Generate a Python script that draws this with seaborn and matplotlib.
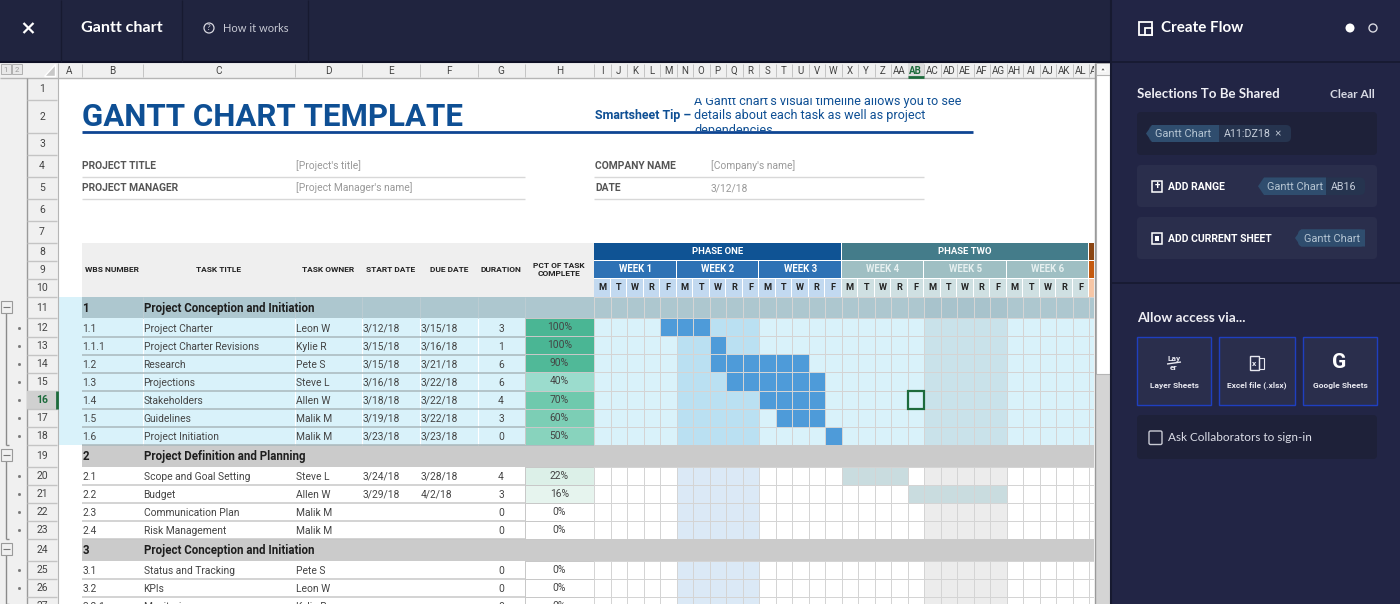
import numpy as np
import pandas as pd
import matplotlib
matplotlib.use("Agg")
import matplotlib.pyplot as plt
import seaborn as sns
from matplotlib.colors import ListedColormap, LinearSegmentedColormap
from matplotlib.patches import Rectangle, FancyBboxPatch, Polygon, Circle

# chart values
col_letters = ["A", "B", "C", "D", "E", "F", "G", "H"]
day_letters = ["M", "T", "W", "R", "F"]
week_labels = ["WEEK 1", "WEEK 2", "WEEK 3", "WEEK 4", "WEEK 5", "WEEK 6"]
phase_labels = ["PHASE ONE", "PHASE TWO"]
header_labels = ["WBS NUMBER", "TASK TITLE", "TASK OWNER", "START DATE", "DUE DATE", "DURATION", "PCT OF TASK\nCOMPLETE"]

wbs_a = ["1.1", "1.1.1", "1.2", "1.3", "1.4", "1.5", "1.6"]
title_a = ["Project Charter", "Project Charter Revisions", "Research", "Projections", "Stakeholders", "Guidelines", "Project Initiation"]
owner_a = ["Leon W", "Kylie R", "Pete S", "Steve L", "Allen W", "Malik M", "Malik M"]
start_a = ["3/12/18", "3/15/18", "3/15/18", "3/16/18", "3/18/18", "3/19/18", "3/23/18"]
due_a = ["3/15/18", "3/16/18", "3/21/18", "3/22/18", "3/22/18", "3/22/18", "3/23/18"]
dur_a = [3, 1, 6, 6, 4, 3, 0]
pct_a = [100, 100, 90, 40, 70, 60, 50]
bar_start_a = [4, 7, 7, 8, 10, 11, 14]
bar_len_a = [3, 1, 6, 6, 4, 3, 1]

wbs_b = ["2.1", "2.2", "2.3", "2.4"]
title_b = ["Scope and Goal Setting", "Budget", "Communication Plan", "Risk Management"]
owner_b = ["Steve L", "Allen W", "Malik M", "Malik M"]
start_b = ["3/24/18", "3/29/18", "", ""]
due_b = ["3/28/18", "4/2/18", "", ""]
dur_b = [4, 3, 0, 0]
pct_b = [22, 16, 0, 0]
bar_start_b = [15, 19, 0, 0]
bar_len_b = [4, 6, 0, 0]

wbs_c = ["3.1", "3.2", "3.2.1"]
title_c = ["Status and Tracking", "KPIs", "Monitoring"]
owner_c = ["Pete S", "Leon W", "Kylie R"]
dur_c = [0, 0, 0]
pct_c = [0, 0, 0]

groups = ["Project Conception and Initiation", "Project Definition and Planning", "Project Conception and Initiation"]

sns.set_theme(style="white")
plt.rcParams["font.family"] = ["Roboto", "DejaVu Sans"]

W, H = 1400, 604
fig = plt.figure(figsize=(14, 6.04), dpi=100, facecolor="white")
ax = fig.add_axes([0, 0, 1, 1])
ax.set_xlim(0, W)
ax.set_ylim(H, 0)
ax.axis("off")


def rect(x0, y0, x1, y1, color, z=1, **kw):
    ax.add_patch(Rectangle((x0, y0), x1 - x0, y1 - y0, facecolor=color, edgecolor="none", zorder=z, **kw))


def line(x0, y0, x1, y1, color, lw=1, z=2):
    ax.plot([x0, x1], [y0, y1], color=color, lw=lw, zorder=z, solid_capstyle="butt")


def txt(x, y, s, size=7, color="#444444", weight="normal", ha="left", family=None, z=5, **kw):
    return ax.text(x, y + 1, s, fontsize=size, color=color, weight=weight, ha=ha, va="center",
                   zorder=z, family=family or ["Roboto", "DejaVu Sans"], **kw)


# row edges of the sheet
row_h = [21.5, 33, 22, 22, 22, 22, 22, 18, 18, 18.5, 21.3, 18.4] + [18] * 6 + [22] + [18] * 4 + [22] + [18] * 3
row_y = np.concatenate([[78], 78 + np.cumsum(row_h)])
col_x = [57.5, 81.5, 142.5, 295, 361.5, 420, 478, 524.5, 594]
cw = 16.5
gx0 = 594
BODY = 7.4


def ry(n):
    return row_y[n - 1]


def rc(n):
    return (row_y[n - 1] + row_y[n]) / 2


# sheet chrome
rect(0, 62, 1111, H, "white", 0)
rect(0, 63, 1095, 78, "#f0f0f0")
rect(0, 78, 57.5, H, "#f0f0f0")
line(0, 77.5, 1095, 77.5, "#b5b5b5", 1)
line(26.5, 78, 26.5, H, "#9a9a9a", 1)
line(57.5, 63, 57.5, H, "#b5b5b5", 0.8)

for i, c in enumerate(col_letters):
    txt((col_x[i] + col_x[i + 1]) / 2, 69.5, c, 7.2, "#444444", ha="center")
    line(col_x[i + 1], 64, col_x[i + 1], 77, "#c4c4c4", 0.7)
grid_letters = [chr(ord("I") + k) for k in range(18)] + ["A" + chr(ord("A") + k) for k in range(12)] + ["A"]
for i, c in enumerate(grid_letters):
    x = gx0 + i * cw
    if c == "AB":
        rect(x, 63, x + cw, 78, "#dcdcdc", 2)
        line(x, 77, x + cw, 77, "#1d6b3c", 2, 3)
        txt(x + cw / 2, 69.5, c, 7, "#1d6b3c", "bold", ha="center")
    elif i < 30:
        txt(x + cw / 2, 69.5, c, 7, "#444444", ha="center")
    else:
        t = txt(x + 1, 69.5, c, 7, "#444444")
        t.set_clip_path(Rectangle((x, 63), 5, 15, transform=ax.transData))
        t.set_clip_on(True)
    line(x + cw, 64, x + cw, 77, "#c4c4c4", 0.7)

# outline buttons
for x, s in [(6, "1"), (17, "2")]:
    ax.add_patch(Rectangle((x - 5, 64), 10, 10, facecolor="#e8e8e8", edgecolor="#b0b0b0", lw=0.7, zorder=3))
    txt(x, 68.5, s, 5.5, "#999999", ha="center")
ax.add_patch(Polygon([[55, 64], [55, 76], [44, 76]], facecolor="#c8c8c8", zorder=3))

for n in range(1, 28):
    y0, y1 = ry(n), row_y[n]
    if y0 > H:
        break
    if n == 16:
        rect(27, y0, 57, y1, "#d0d0d0", 2)
        line(56.5, y0, 56.5, y1, "#1d6b3c", 2, 3)
        txt(42, (y0 + y1) / 2 - 0.5, str(n), 7.5, "#1d6b3c", "bold", ha="center")
    else:
        txt(42, (y0 + y1) / 2 - 0.5, str(n), 7.5, "#444444", ha="center")
    line(27, y1, 57, y1, "#c4c4c4", 1)
    if n >= 12 and n not in (19, 24):
        ax.plot([18.5], [(y0 + y1) / 2], marker="s", ms=1, color="#777777", zorder=3)

for n, end in [(11, 18), (19, 23), (24, 27)]:
    yc = rc(n) - 0.5
    line(6, yc, 6, min(row_y[end], H), "#8a8a8a", 1)
    line(6, min(row_y[end], H), 9, min(row_y[end], H), "#8a8a8a", 1)
    ax.add_patch(Rectangle((0.5, yc - 6), 11, 12, facecolor="#f0f0f0", edgecolor="#9a9a9a", lw=0.8, zorder=3))
    line(2.5, yc, 9.5, yc, "#777777", 0.8, 4)

# sheet title and project info
txt(82, 115.5, "GANTT CHART TEMPLATE", 22.5, "#0e4f94", "bold")
line(81.5, 132.3, 973, 132.3, "#0e4593", 2)
txt(595, 115, "Smartsheet Tip \u2013", 8.95, "#0e4f94", "bold")
clip = Rectangle((690, 98.3), 300, 33, transform=ax.transData)
tips = ["A Gantt chart's visual timeline allows you to see", "details about each task as well as project", "dependencies"]
for y, s in zip([101, 115, 129.5], tips):
    t = txt(694, y, s, 9.05, "#0e4f94")
    t.set_clip_path(clip)
    t.set_clip_on(True)

for x, lab, xv, val, y in [(82, "PROJECT TITLE", 296, "[Project's title]", 165),
                           (82, "PROJECT MANAGER", 296, "[Project Manager's name]", 187),
                           (595, "COMPANY NAME", 711, "[Company's name]", 165),
                           (595, "DATE", 711, "3/12/18", 187)]:
    txt(x, y, lab, BODY, "#555555", "bold")
    txt(xv, y, val, BODY, "#999999")
for y in [176.5, 198.5]:
    line(81.5, y, 525, y, "#d8d8d8", 1)
    line(594, y, 924, y, "#d8d8d8", 1)

# table header
rect(81.5, ry(8), gx0, ry(11), "#efefef")
for i, lab in enumerate(header_labels):
    xc = (col_x[i + 1] + col_x[i + 2]) / 2
    txt(xc, rc(9) - 1, lab, 6, "#222222", "bold", ha="center", linespacing=1.15)

for i, lab in enumerate(phase_labels):
    x0 = gx0 + i * 15 * cw
    rect(x0, ry(8), x0 + 15 * cw - 0.7, ry(9) - 0.5, ["#0f5394", "#447c8a"][i])
    txt(x0 + 7.5 * cw, rc(8) - 1, lab, 6.8, "#ffffff", "bold", ha="center")
rect(gx0 + 30 * cw, ry(8), 1094, ry(9) - 0.5, "#8a4513")
rect(gx0 + 30 * cw, ry(9), 1094, ry(10) - 0.5, "#c45a10")
rect(gx0 + 30 * cw, ry(10), 1094, ry(11) - 0.5, "#f6c6a6")
for i, lab in enumerate(week_labels):
    x0 = gx0 + i * 5 * cw
    rect(x0, ry(9), x0 + 5 * cw - 0.7, ry(10) - 0.5, "#2e72b5" if i < 3 else "#9fbfc3")
    txt(x0 + 2.5 * cw, rc(9) - 1, lab, 6.9, "#ffffff" if i < 3 else "#e6f0f0", "bold", ha="center")
    for d, s in enumerate(day_letters):
        xd = x0 + d * cw
        rect(xd, ry(10), xd + cw - 0.7, ry(11) - 0.5, "#c2d9f0" if i < 3 else "#cfe0e2")
        txt(xd + cw / 2, rc(10) - 1, s, 6.6, "#222222", "bold", ha="center")

# group rows
rect(57.5, ry(11), 81.5, ry(19), "#d9f2fa")
rect(81.5, ry(11), 594, ry(12), "#adc7cf", 2)
rect(81.5, ry(19), 1094, ry(20), "#cbcbcb", 2)
rect(81.5, ry(24), 1094, ry(25), "#cbcbcb", 2)
for x in col_x[2:8]:
    line(x, ry(11), x, ry(12), "#bccdd3", 0.7, 3)
for n, num, g in zip([11, 19, 24], ["1", "2", "3"], groups):
    txt(82.5, rc(n) - 0.3, num, 8.3, "#1e1e1e", "bold")
    txt(144, rc(n) - 0.3, g, 8.3, "#1e1e1e", "bold")

# task text rows
rect(81.5, ry(12), 524.5, ry(19), "#d9f2fa")
for x in col_x[2:7]:
    line(x, ry(12), x, ry(19), "#ffffff", 0.8)


def task_rows(first, wbs, title, owner, start, due, dur, rule):
    for i in range(len(wbs)):
        y = rc(first + i)
        txt(82.5, y, wbs[i], BODY, "#444444")
        txt(143.5, y, title[i], BODY, "#444444")
        txt(296, y, owner[i], BODY, "#444444")
        txt(363, y, start[i], BODY, "#444444")
        txt(421, y, due[i], BODY, "#444444")
        txt(501, y, str(dur[i]), BODY, "#444444", ha="center")
        line(81.5, row_y[first + i], 594, row_y[first + i], rule, 1.1, 3)


task_rows(12, wbs_a, title_a, owner_a, start_a, due_a, dur_a, "#a9b8bc")
task_rows(20, wbs_b, title_b, owner_b, start_b, due_b, dur_b, "#c8c8c8")
task_rows(25, wbs_c, title_c, owner_c, ["", "", ""], ["", "", ""], dur_c, "#c8c8c8")

# gantt cells, all through heatmaps
cell_colors = ["#d9f2fa", "#bae0f2", "#c9e2ea", "#4e9bd9",
               "#ffffff", "#dbe9f6", "#ececec", "#c9dcdf",
               "#adc7cf", "#a8c3cc"]
cell_cmap = ListedColormap(cell_colors)
pct_cmap = LinearSegmentedColormap.from_list(
    "pct", [(0, "#ffffff"), (0.16, "#e6f4ee"), (0.22, "#dcf0e8"), (0.4, "#9bdccd"),
            (0.5, "#88d3bd"), (0.7, "#6fc9ad"), (0.9, "#50b998"), (1, "#4ab694")])


def sub_axes(x0, y0, x1, y1):
    return fig.add_axes([x0 / W, 1 - y1 / H, (x1 - x0) / W, (y1 - y0) / H], zorder=3)


def gantt_block(first, nrows, base, wk2, wk5, bar, starts=None, lens=None, grid="#d4d4d4"):
    m = np.full((nrows, 31), base)
    m[:, 5:10] = wk2
    m[:, 20:25] = wk5
    if starts is not None:
        for r, (s, n) in enumerate(zip(starts, lens)):
            m[r, s:s + n] = bar
    a = sub_axes(gx0, ry(first), 1094, ry(first + nrows))
    sns.heatmap(pd.DataFrame(m), ax=a, cmap=cell_cmap, vmin=0, vmax=len(cell_colors) - 1, cbar=False,
                linewidths=0.5, linecolor=grid, xticklabels=False, yticklabels=False)
    a.set_xlim(0, 500 / cw)
    a.set_ylim(nrows, 0)
    return a


def pct_block(first, vals):
    a = sub_axes(col_x[7], ry(first), 594, ry(first + len(vals)))
    labels = np.array([[f"{v}%"] for v in vals])
    sns.heatmap(pd.DataFrame(vals), ax=a, cmap=pct_cmap, vmin=0, vmax=100, cbar=False, annot=labels, fmt="",
                annot_kws={"fontsize": BODY, "color": "#444444"},
                linewidths=0.6, linecolor="#c8c8c8", xticklabels=False, yticklabels=False)
    return a


gantt_block(11, 1, 8, 8, 9, 8)
ga = gantt_block(12, 7, 0, 1, 2, 3, bar_start_a, bar_len_a)
gantt_block(20, 4, 4, 5, 6, 7, bar_start_b, bar_len_b)
gantt_block(25, 3, 4, 5, 6, 7)
pct_block(12, pct_a)
pct_block(20, pct_b)
pct_block(25, pct_c)
ga.add_patch(Rectangle((19, 4), 1, 1, facecolor="none", edgecolor="#1d6b3c", lw=1.6, zorder=6, clip_on=False))

# sheet scrollbar
rect(1095, 63, 1111, H, "#d4d4d4")
ax.add_patch(Rectangle((1096, 63), 14, 12, facecolor="#f4f4f4", edgecolor="#b5b5b5", lw=0.7, zorder=2))
ax.add_patch(Polygon([[1100, 71], [1106, 71], [1103, 67]], facecolor="#555555", zorder=3))
ax.add_patch(Rectangle((1096, 75), 14, 299, facecolor="white", edgecolor="#b5b5b5", lw=0.8, zorder=2))
line(1094.5, 63, 1094.5, H, "#9a9a9a", 1, 3)

# app top bar
NAVY = "#20243f"
PANEL = "#222545"
EDGE = "#171a30"
UI = ["Lato", "DejaVu Sans"]
rect(0, 0, 1111, 62, NAVY, 6)
line(0, 62, 1111, 62, "#0e1026", 1.5, 7)
for x in [61, 181.5, 307.5]:
    line(x, 0, x, 62, EDGE, 1, 7)
line(23.5, 23, 33.5, 33, "white", 1.6, 8)
line(23.5, 33, 33.5, 23, "white", 1.6, 8)
txt(81, 27.5, "Gantt chart", 11.6, "white", "bold", family=UI, z=8)
ax.add_patch(Circle((209, 28), 5, facecolor="none", edgecolor="#d8d8e0", lw=0.9, zorder=8))
txt(209, 27, "?", 6, "#d8d8e0", ha="center", family=UI, z=8)
txt(223, 27, "How it works", 8, "#c8cad4", family=UI, z=8)

# right panel
rect(1111, 0, W, H, PANEL, 6)
line(1111, 0, 1111, H, EDGE, 1.5, 7)
line(1111, 61.5, W, 61.5, EDGE, 1.2, 7)
line(1111, 283, W, 283, EDGE, 1.2, 7)


def card(x0, y0, x1, y1, color, r=4):
    ax.add_patch(FancyBboxPatch((x0 + r, y0 + r), x1 - x0 - 2 * r, y1 - y0 - 2 * r,
                                boxstyle=f"round,pad={r},rounding_size={r}", facecolor=color,
                                edgecolor="none", zorder=7))


def tag(x0, xs, x1, y0, y1, label, value=None):
    ym = (y0 + y1) / 2
    card(x0 + 3, y0, x1, y1, "#26344f" if value else "#2f4d6e", 5)
    ax.add_patch(Polygon([[x0, ym], [x0 + 6, y0], [xs, y0], [xs, y1], [x0 + 6, y1]],
                         facecolor="#2f4d6e", edgecolor="none", zorder=8))
    txt(x0 + 9, ym - 0.5, label, 7.9, "#b4c4d2", z=9)
    if value:
        txt(xs + 5, ym - 0.5, value, 7.7, "#c8d0dc", z=9)


ax.add_patch(Rectangle((1138.5, 21.5), 13, 13, facecolor="none", edgecolor="white", lw=1.3, zorder=8))
ax.add_patch(Rectangle((1145, 28), 7, 6.5, facecolor=PANEL, edgecolor="white", lw=1.3, zorder=8))
txt(1161, 27.5, "Create Flow", 10.9, "white", "bold", family=UI, z=8)
ax.add_patch(Circle((1350, 28), 4.5, facecolor="white", edgecolor="none", zorder=8))
ax.add_patch(Circle((1373, 28), 4, facecolor="none", edgecolor="#d8d8e0", lw=1, zorder=8))

txt(1137, 93.5, "Selections To Be Shared", 9.5, "#eeeef4", "bold", family=UI, z=8)
txt(1375, 93.5, "Clear All", 8.6, "#d8dae4", "bold", ha="right", family=UI, z=8)

card(1137, 112, 1377, 155, "#1e2139")
tag(1146, 1219, 1291, 125, 142, "Gantt Chart", "A11:DZ18")
txt(1278, 132.5, "\u00d7", 8, "#c8d0dc", ha="center", family=UI, z=9)

card(1137, 165, 1377, 207, "#2a2e4c")
ax.add_patch(Rectangle((1152, 181), 10, 11, facecolor="none", edgecolor="white", lw=1.1, zorder=8))
txt(1157, 185.5, "+", 7, "white", "bold", ha="center", z=9)
txt(1168, 185.5, "ADD RANGE", 7.5, "white", "bold", z=8)
tag(1258, 1326, 1365, 177.5, 195, "Gantt Chart", "AB16")

card(1137, 217, 1377, 259, "#2a2e4c")
ax.add_patch(Rectangle((1152, 233), 10, 11, facecolor="none", edgecolor="white", lw=1.1, zorder=8))
rect(1155, 236, 1159, 241, "white", 9)
txt(1168, 237.5, "ADD CURRENT SHEET", 7.5, "white", "bold", z=8)
tag(1295, 1365, 1365, 229.5, 246.5, "Gantt Chart")

txt(1137, 317.5, "Allow access via...", 9.8, "#eeeef4", "bold", family=UI, z=8)
buttons = [(1137, 1211, "Layer Sheets"), (1219, 1295, "Excel file (.xlsx)"), (1303, 1377, "Google Sheets")]
for x0, x1, s in buttons:
    ax.add_patch(Rectangle((x0, 336.5), x1 - x0, 68.5, facecolor="#2a2e4c", edgecolor="#1f3fc0", lw=1, zorder=7))
    txt((x0 + x1) / 2, 384.5, s, 6, "#e8e8f0", "bold", ha="center", z=8)
txt(1174, 357, "Lay", 6, "#e8e8f0", "bold", ha="center", z=8)
line(1167, 364, 1181, 362, "#e8e8f0", 1, 8)
txt(1174, 367, "er", 6, "#e8e8f0", "bold", ha="center", z=8)
ax.add_patch(Rectangle((1250, 356), 9, 14, facecolor="none", edgecolor="#e8e8f0", lw=1, zorder=8))
ax.add_patch(Rectangle((1259, 357.5), 4.5, 11, facecolor="none", edgecolor="#e8e8f0", lw=0.8, zorder=8))
txt(1254.5, 362, "x", 6, "#e8e8f0", "bold", ha="center", z=9)
txt(1339.5, 362, "G", 15, "white", "bold", ha="center", z=8)

card(1137, 415, 1377, 459, "#1e2139")
ax.add_patch(FancyBboxPatch((1150, 432), 11, 11.5, boxstyle="round,pad=1,rounding_size=1.5",
                            facecolor="none", edgecolor="#c8cad4", lw=1, zorder=8))
txt(1168, 436.5, "Ask Collaborators to sign-in", 8.5, "#dcdee8", family=UI, z=8)

fig.savefig("out.png", dpi=100)
